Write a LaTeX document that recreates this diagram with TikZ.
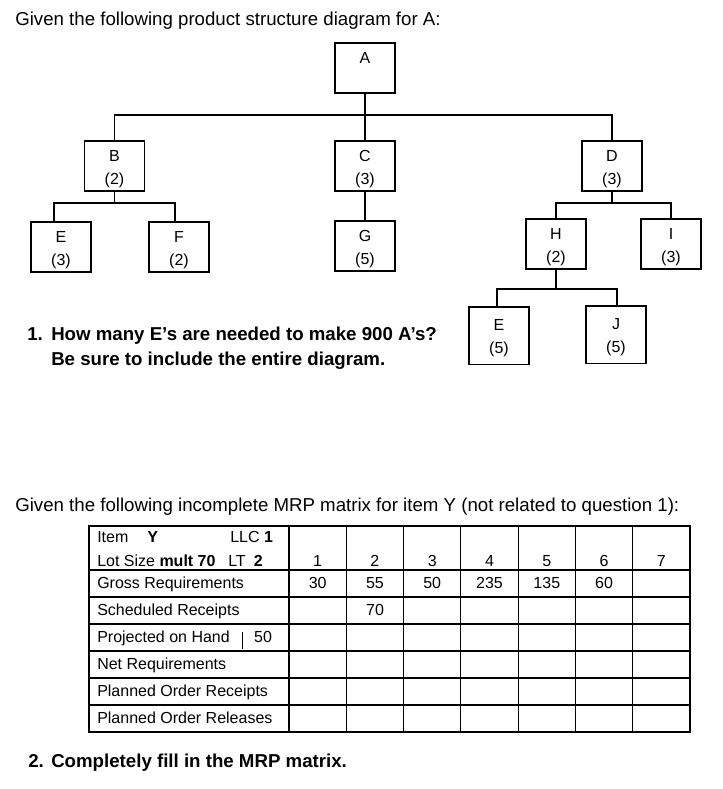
\documentclass[tikz,border=0pt]{standalone}
\usepackage{fontspec}
\setmainfont{Liberation Sans}
\usepackage{tikz}
\usetikzlibrary{calc}
\newcommand{\lift}{\rule{0pt}{12.5pt}}

\begin{document}
\begin{tikzpicture}[x=0.75pt,y=-0.75pt,
  item/.style={draw,line width=1pt,minimum width=45pt,minimum height=37.5pt,inner sep=0pt,align=center,font=\fontsize{12}{17.25}\selectfont},
  tallitem/.style={item,minimum height=43pt},
  link/.style={line width=0.9pt},
  big/.style={anchor=base west,inner sep=0pt,font=\fontsize{14}{17}\selectfont},
  lbl/.style={anchor=base west,inner sep=0pt,font=\fontsize{12}{14}\selectfont},
  cell/.style={anchor=base,inner sep=0pt,font=\fontsize{12}{14}\selectfont}]
\useasboundingbox (0,0) rectangle (722,789);

\node[big] (title1) at (15,25) {Given the following product structure diagram for A:};

\node[item] (A) at (365,68) {\lift A\\\phantom{(1)}};
\node[item] (B) at (114.5,166) {\lift B\\(2)};
\node[item] (C) at (365,166) {\lift C\\(3)};
\node[item] (D) at (612,166) {\lift D\\(3)};
\node[item] (E) at (61,247) {\lift E\\(3)};
\node[item] (F) at (179,247) {\lift F\\(2)};
\node[item] (G) at (365,246) {\lift G\\(5)};
\node[item] (H) at (556,244) {\lift H\\(2)};
\node[item] (I) at (671,244) {\lift I\\(3)};
\node[tallitem] (E2) at (499,335.5) {\lift E\\(5)};
\node[tallitem] (J) at (616,334.5) {\lift J\\(5)};

\coordinate (busA) at (365,115);
\coordinate (busB) at (114.5,203);
\coordinate (busD) at (612,203);
\coordinate (busH) at (556,289);

\draw[link] (A.south) -- (C.north);
\draw[link] (B.north) |- (busA) -| (D.north);
\draw[link] (B.south) -- (busB);
\draw[link] ([xshift=-5.25pt]E.north) |- (busB) -| ([xshift=-3pt]F.north);
\draw[link] (C.south) -- (G.north);
\draw[link] (D.south) -- (busD);
\draw[link] (H.north) |- (busD) -| (I.north);
\draw[link] (H.south) -- (busH);
\draw[link] ([xshift=-1.5pt]E2.north) |- (busH) -| ([xshift=0.75pt]J.north);

\node[big,font=\fontsize{14}{17}\selectfont\bfseries] (q1) at (27,340) {1.};
\node[big,font=\fontsize{14}{17}\selectfont\bfseries] (q1a) at (51,340) {How many E’s are needed to make 900 A’s?};
\node[big,font=\fontsize{14}{17}\selectfont\bfseries] (q1b) at (51,365) {Be sure to include the entire diagram.};

\node[big] (title2) at (15,511) {Given the following incomplete MRP matrix for item Y (not related to question 1):};

\draw[line width=1.5pt] (89,526) rectangle (690,732);
\draw[line width=1.5pt] (89,570) -- (690,570);
\foreach \y in {597,624,651,678,705}
  \draw[line width=0.8pt] (89,\y) -- (690,\y);
\foreach \i in {0,...,6}
  \draw[line width=0.8pt] (289+57.29*\i,526) -- (289+57.29*\i,732);
\draw[line width=0.6pt] (242,632) -- (242,649);

\node[lbl] (item) at (97,542) {Item};
\node[lbl] (itemY) at (147,542) {\bfseries Y};
\node[lbl] (llc) at (230,542) {LLC \bfseries 1};
\node[lbl] (lot) at (97,566) {Lot Size \bfseries mult 70};
\node[lbl] (lt) at (228,566) {LT\hspace{6pt}\bfseries 2};

\node[lbl] (gross) at (97,588) {Gross Requirements};
\node[lbl] (sched) at (97,615) {Scheduled Receipts};
\node[lbl] (proj) at (97,642) {Projected on Hand};
\node[cell] (proj0) at (263,642) {50};
\node[lbl] (net) at (97,669) {Net Requirements};
\node[lbl] (porec) at (97,696) {Planned Order Receipts};
\node[lbl] (porel) at (97,723) {Planned Order Releases};

\foreach \i in {1,...,7}
  \node[cell] (per\i) at (260.36+57.29*\i,566) {\i};
\foreach \v [count=\i] in {30,55,50,235,135,60}
  \node[cell] (gr\i) at (260.36+57.29*\i,588) {\v};
\node[cell] (sr2) at (375,615) {70};

\node[big,font=\fontsize{14}{17}\selectfont\bfseries] (q2) at (28,767) {2.};
\node[big,font=\fontsize{14}{17}\selectfont\bfseries] (q2a) at (51,767) {Completely fill in the MRP matrix.};

\end{tikzpicture}
\end{document}
